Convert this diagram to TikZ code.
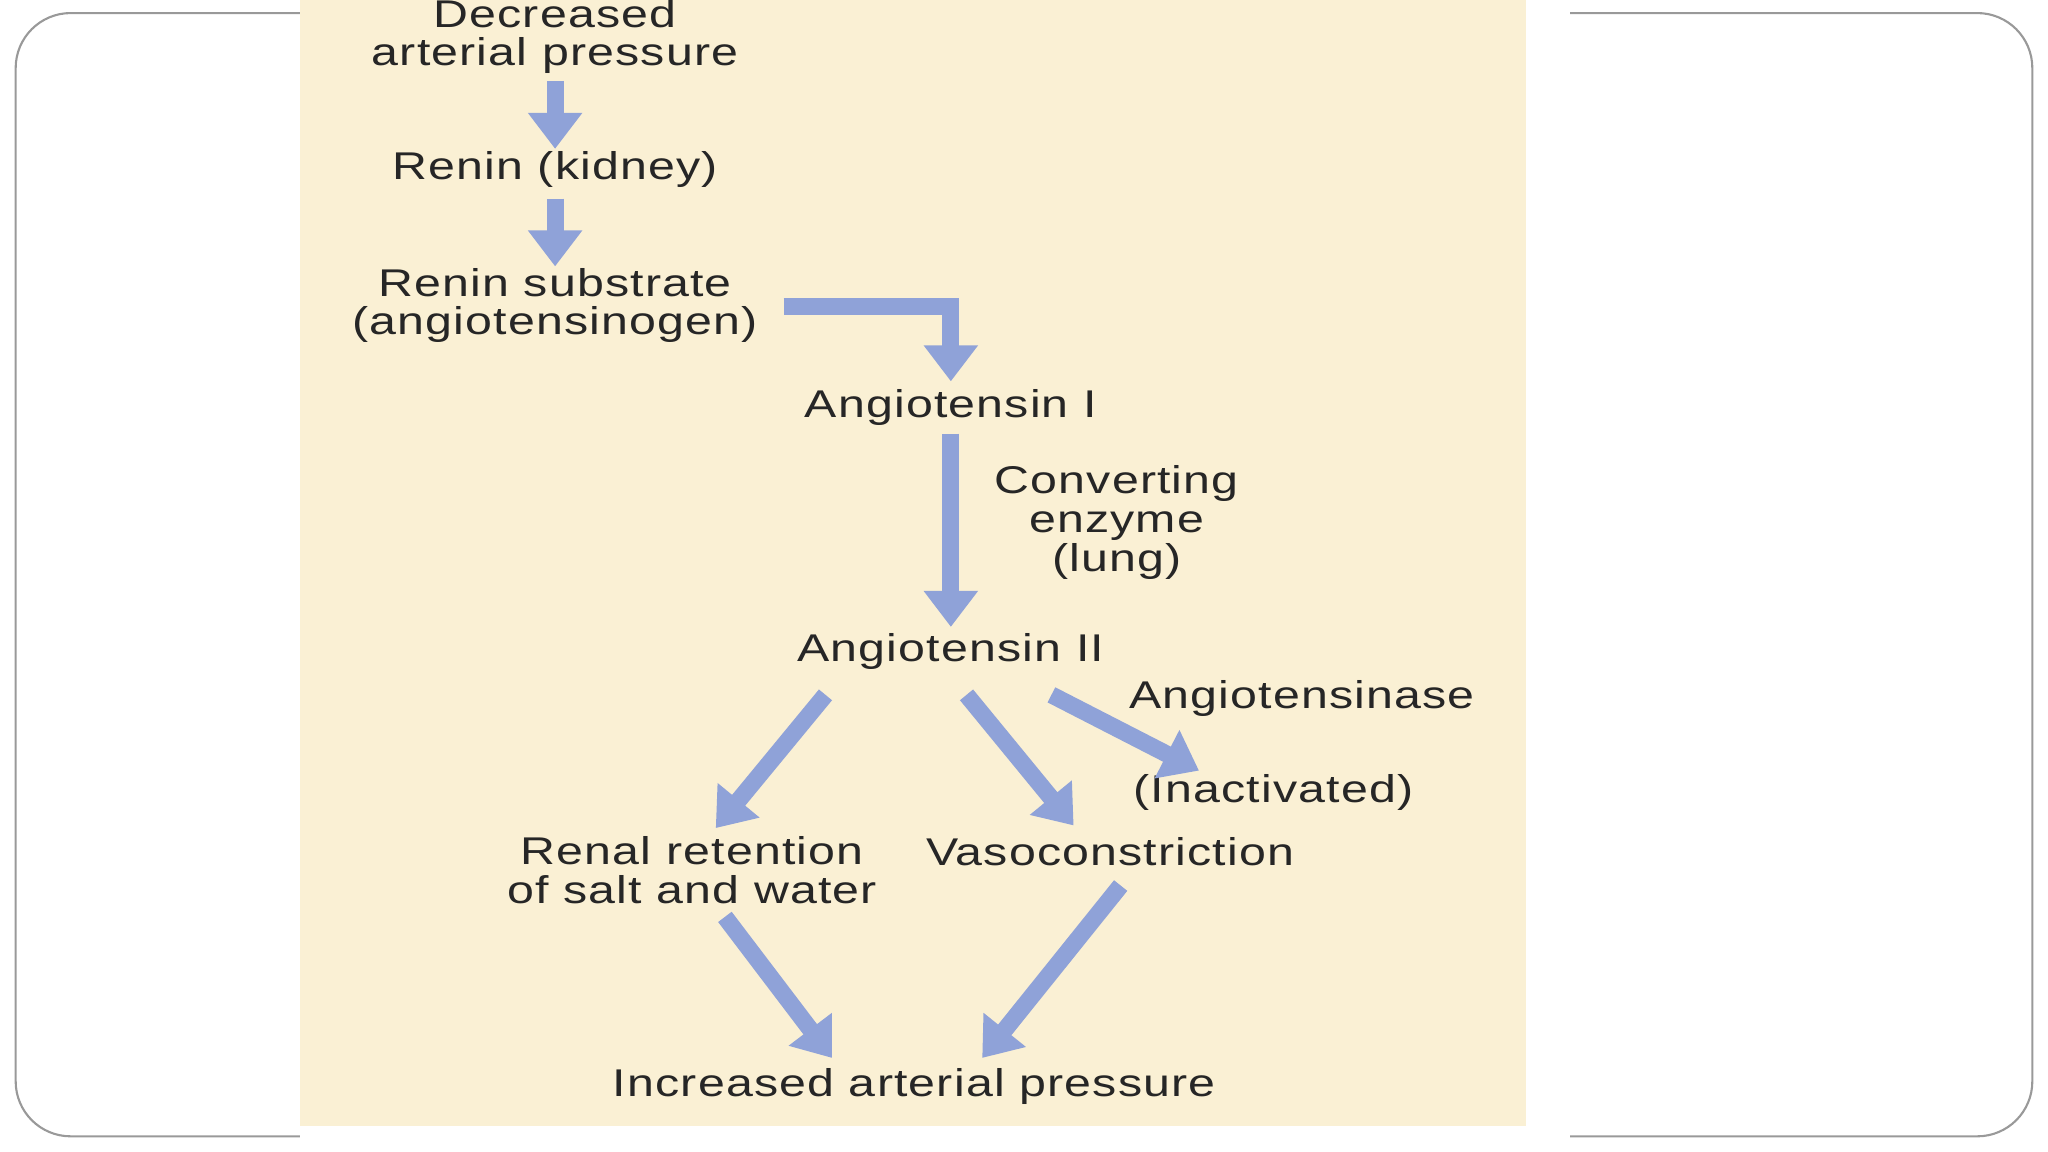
\documentclass[tikz,border=0pt]{standalone}
\usepackage{fontspec}
\setmainfont{Liberation Sans}[FakeStretch=1.25,LetterSpace=3]
\usetikzlibrary{arrows.meta}
\tikzset{
  txt/.style={align=center,font=\fontsize{11}{11}\selectfont,text=black!85,inner sep=1pt},
  flow/.style={draw=arrowblue,line width=0.17cm,-{Triangle[length=0.36cm,width=0.52cm]}}
}
\definecolor{panel}{HTML}{FAF0D4}
\definecolor{arrowblue}{HTML}{8FA2D8}
\begin{document}
\begin{tikzpicture}[x=0.013061cm,y=-0.013061cm]
	% frame and panel
	\useasboundingbox (0,0) rectangle (1568,882);
	\draw[gray!80,line width=0.6pt,rounded corners=0.55cm] (12,10) rectangle (1556,870);
	\fill[white] (230,0) rectangle (1202,882);
	\fill[panel] (230,0) rectangle (1168,862);

	% nodes
	\node[txt] (dec) at (425,28) {Decreased\\arterial pressure};
	\node[txt] (renin) at (425,130) {Renin (kidney)};
	\node[txt] (sub) at (425,234) {Renin substrate\\(angiotensinogen)};
	\node[txt] (ang1) at (728,312) {Angiotensin I};
	\node[txt] (conv) at (855,400) {Converting\\enzyme\\(lung)};
	\node[txt] (ang2) at (728,499) {Angiotensin II};
	\node[txt] (ase) at (997,535) {Angiotensinase};
	\node[txt] (inact) at (975,607) {(Inactivated)};
	\node[txt] (renal) at (530,666) {Renal retention\\of salt and water};
	\node[txt] (vaso) at (850,652) {Vasoconstriction};
	\node[txt] (inc) at (700,832) {Increased arterial pressure};

	% arrow ends
	\coordinate (a1) at (425,62);  \coordinate (b1) at (425,114);
	\coordinate (a2) at (425,152); \coordinate (b2) at (425,204);
	\coordinate (a3) at (600,235); \coordinate (b3) at (728,292);
	\coordinate (a4) at (728,332); \coordinate (b4) at (728,480);
	\coordinate (a5) at (632,532); \coordinate (b5) at (548,634);
	\coordinate (a6) at (740,532); \coordinate (b6) at (822,632);
	\coordinate (a7) at (805,532); \coordinate (b7) at (918,590);
	\coordinate (a8) at (555,702); \coordinate (b8) at (637,810);
	\coordinate (a9) at (858,678); \coordinate (b9) at (752,810);

	% flow
	\draw[flow] (a1) -- (b1);
	\draw[flow] (a2) -- (b2);
	\draw[flow] (a3) -| (b3);
	\draw[flow] (a4) -- (b4);
	\draw[flow] (a5) -- (b5);
	\draw[flow] (a6) -- (b6);
	\draw[flow] (a7) -- (b7);
	\draw[flow] (a8) -- (b8);
	\draw[flow] (a9) -- (b9);
\end{tikzpicture}
\end{document}
